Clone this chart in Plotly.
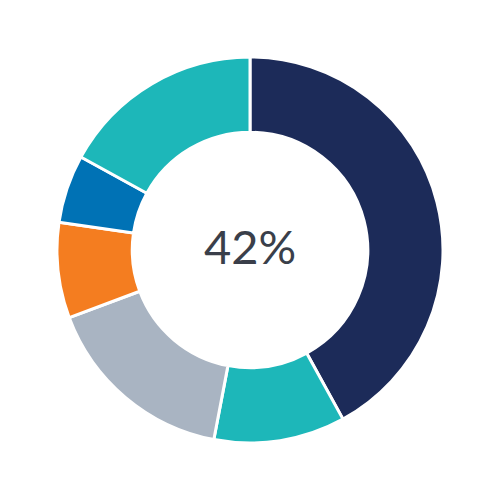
import plotly.graph_objects as go

labels = ["A", "B", "C", "D", "E", "F"]
values = [42, 11, 16.3, 8, 5.7, 17]
colors = ["#1c2b59", "#1db7b9", "#a9b4c2", "#f47d20", "#0072b5", "#1db7b9"]
center_text = "42%"

fig = go.Figure(data=[go.Pie(labels=labels, values=values, hole=.61, sort=False,
                             direction="clockwise", rotation=0,
                             marker=dict(colors=colors, line=dict(color="white", width=3)),
                             textinfo="none", hoverinfo="none")])
# page body adds 8px, so margins are offset to keep the ring centred
fig.update_layout(width=500, height=500, showlegend=False,
                  margin=dict(l=49, r=65, t=49, b=65),
                  paper_bgcolor="white", plot_bgcolor="white",
                  annotations=[dict(text=center_text, x=0.5, y=0.5, xref="paper", yref="paper",
                                    showarrow=False, yshift=4,
                                    font=dict(family="Lato", size=47, color="#3a3f4a", weight=400))])
fig.write_html("out.html")
